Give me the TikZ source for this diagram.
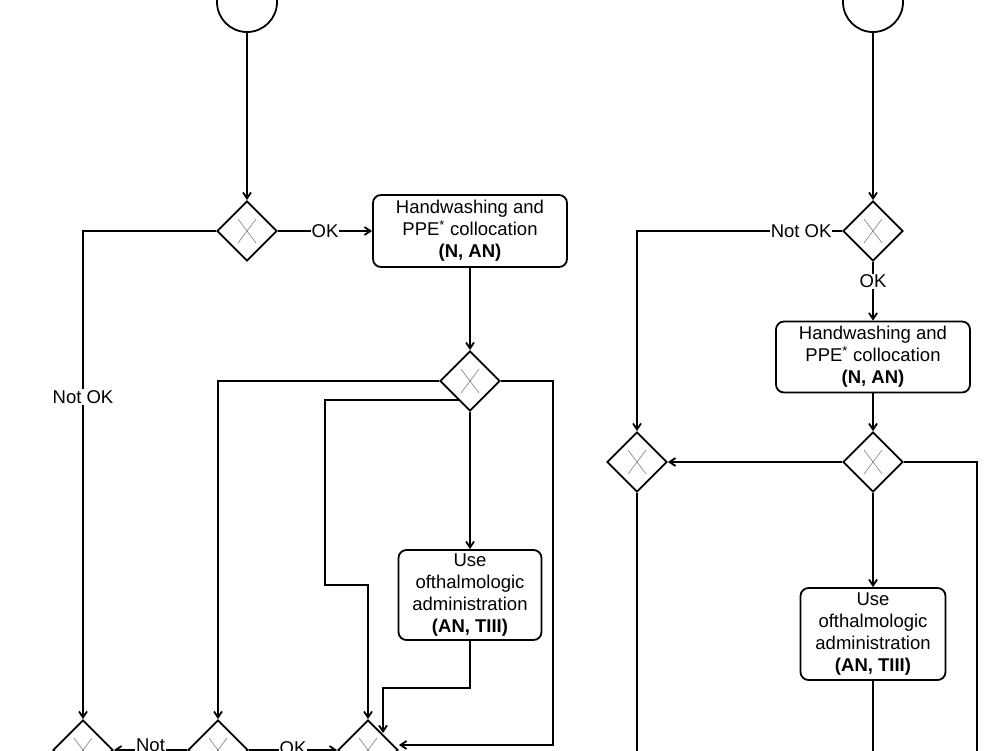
\documentclass[tikz,border=0pt]{standalone}
\usepackage{fontspec}
\setmainfont{Liberation Sans}
\usetikzlibrary{shapes.geometric,arrows.meta}
\begin{document}
\begin{tikzpicture}[x=1pt,y=-1pt,
  every node/.style={font=\fontsize{18.5}{22}\selectfont},
  gw/.style={draw,line width=1.8pt,diamond,minimum width=60pt,minimum height=60pt,inner sep=0pt,
    path picture={\draw[gray,line width=0.6pt] ([shift={(-9,-12)}]path picture bounding box.center) -- ([shift={(9,12)}]path picture bounding box.center);
    \draw[gray,line width=0.6pt] ([shift={(9,-12)}]path picture bounding box.center) -- ([shift={(-9,12)}]path picture bounding box.center);}},
  ev/.style={draw,line width=1.8pt,circle,minimum size=60pt,inner sep=0pt},
  task/.style={draw,line width=1.8pt,rounded corners=8pt,align=center,inner sep=1pt},
  line/.style={line width=1.8pt},
  arr/.style={line,-{Straight Barb[length=6pt,width=8pt]}},
  lbl/.style={fill=white,inner sep=1pt}]
\useasboundingbox (0,0) rectangle (1000,750);
% left
\node[ev] (s1) at (247,2) {};
\node[gw] (d1) at (247,231) {};
\node[task,minimum width=194pt,minimum height=72pt] (b1) at (470,231) {Handwashing and\\PPE\textsuperscript{*} collocation\\\textbf{(N, AN)}};
\node[gw] (d2) at (470,381) {};
\node[task,minimum width=143pt,minimum height=90pt] (b2) at (470,595) {Use\\ofthalmologic\\administration\\\textbf{(AN, TIII)}};
\node[gw] (d3) at (83,750) {};
\node[gw] (d4) at (218,750) {};
\node[gw] (d5) at (368,750) {};
\coordinate (c1) at (83,231);
\coordinate (c2) at (218,381);
\coordinate (c3) at (553,381);
\coordinate (c4) at (553,745);
\coordinate (c0) at (459,400);
\coordinate (c5) at (325,400);
\coordinate (c6) at (325,585);
\coordinate (c7) at (368,585);
\coordinate (c8) at (470,688);
\coordinate (c9) at (383,688);
\coordinate (c10) at (383,733);
\draw[arr] (s1) -- (d1);
\draw[arr] (d1) -- node[lbl]{OK} (b1);
\draw[arr] (d1.west) -- (c1) -- node[lbl,pos=0.34]{Not OK} (d3);
\draw[arr] (b1) -- (d2);
\draw[arr] (d2.west) -- (c2) -- (d4);
\draw[arr] (d2.east) -- (c3) -- (c4) -- (c4 -| d5.east);
\draw[arr] (c0) -- (c5) -- (c6) -- (c7) -- (d5.north);
\draw[arr] (d4) -- node[lbl,above=-4pt]{Not} (d3);
\draw[arr] (d2) -- (b2);
\draw[arr] (b2) -- (c8) -- (c9) -- (c10);
\draw[arr] (d4) -- node[lbl,above=-7pt]{OK} (d5);
% right
\node[ev] (s2) at (873,2) {};
\node[gw] (d6) at (873,231) {};
\node[task,minimum width=194pt,minimum height=71pt] (b3) at (873,357) {Handwashing and\\PPE\textsuperscript{*} collocation\\\textbf{(N, AN)}};
\node[gw] (d7) at (873,462) {};
\node[gw] (d8) at (637,462) {};
\node[task,minimum width=145pt,minimum height=92pt] (b4) at (873,634) {Use\\ofthalmologic\\administration\\\textbf{(AN, TIII)}};
\coordinate (e1) at (637,231);
\coordinate (e2) at (977,462);
\coordinate (e3) at (977,752);
\coordinate (e4) at (873,752);
\coordinate (e5) at (637,752);
\draw[arr] (s2) -- (d6);
\draw[arr] (d6) -- node[lbl,pos=0.33]{OK} (b3);
\draw[arr] (d6) -- node[lbl,pos=0.2]{Not OK} (e1) -- (d8);
\draw[arr] (b3) -- (d7);
\draw[arr] (d7) -- (d8);
\draw[line] (d7) -- (e2) -- (e3);
\draw[arr] (d7) -- (b4);
\draw[line] (b4) -- (e4);
\draw[line] (d8) -- (e5);
\end{tikzpicture}
\end{document}
